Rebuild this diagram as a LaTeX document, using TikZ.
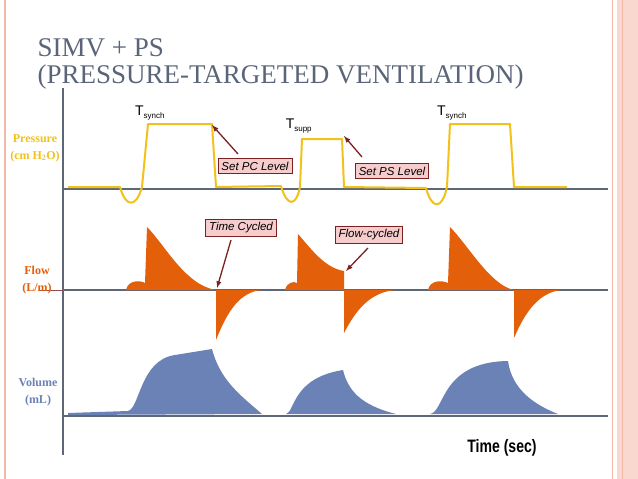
\documentclass[tikz,border=0pt]{standalone}
\usepackage{fontspec}
\setmainfont{Liberation Serif}
\newfontfamily\sansf{Liberation Sans}
\newfontfamily\narrowf{Liberation Sans}[FakeStretch=0.78]
\definecolor{axisgray}{HTML}{5E6776}
\definecolor{presscol}{HTML}{F2C21B}
\definecolor{flowcol}{HTML}{E35F0A}
\definecolor{volcol}{HTML}{6B82B6}
\definecolor{boxfill}{HTML}{F6CCCC}
\definecolor{boxline}{HTML}{7A2222}
\definecolor{titlecol}{HTML}{5B6579}
\definecolor{pinkline}{HTML}{F4B8A8}
\tikzset{
  notebox/.style={draw=boxline,fill=boxfill,line width=0.8pt,inner sep=3.5pt,font=\sansf\itshape\fontsize{11.5}{12}\selectfont},
  pointer/.style={draw=boxline,line width=1.3pt,-latex},
  sidelabel/.style={align=center,font=\bfseries\fontsize{12}{17}\selectfont}
}
\begin{document}
\begin{tikzpicture}[x=1pt,y=-1pt]
\useasboundingbox (0,0) rectangle (638,479);
\fill[white] (0,0) rectangle (638,479);
% slide border
\draw[pinkline,line width=1.5pt] (5,0) -- (5,479);
\draw[pinkline,line width=1pt] (612,0) -- (612,479);
\fill[pinkline!55] (617,0) rectangle (638,479);
\draw[pinkline,line width=1pt] (622,0) -- (622,479);
% title
\node[anchor=west,text=titlecol,font=\fontsize{27}{30}\selectfont] (title1) at (34,48) {SIMV + PS};
\node[anchor=west,text=titlecol,font=\fontsize{27}{30}\selectfont] (title2) at (34,77) {(PRESSURE-TARGETED VENTILATION)};
% axes
\draw[axisgray,line width=2.5pt] (63,88) -- (63,455);
\draw[axisgray,line width=2.5pt] (63,189) -- (608,189);
\draw[axisgray,line width=2.5pt] (63,290) -- (608,290);
\draw[axisgray,line width=2.5pt] (63,416) -- (608,416);
\draw[boxline!80,line width=1pt] (40,290) -- (63,290);
% flow
\fill[flowcol] (126,290) .. controls (128,280) and (140,280) .. (145,283) -- (147,227)
  .. controls (165,245) and (185,285) .. (216,290) -- cycle;
\fill[flowcol] (216,290) -- (216,340) .. controls (228,310) and (240,292) .. (262,290) -- cycle;
\fill[flowcol] (285,290) .. controls (287,282) and (294,281) .. (297,283) -- (298,234)
  .. controls (312,250) and (325,268) .. (344,271) -- (344,290) -- cycle;
\fill[flowcol] (344,290) -- (344,333) .. controls (356,310) and (370,292) .. (396,290) -- cycle;
\fill[flowcol] (428,290) .. controls (430,280) and (442,280) .. (448,283) -- (450,227)
  .. controls (468,245) and (490,285) .. (514,290) -- cycle;
\fill[flowcol] (514,290) -- (514,338) .. controls (526,310) and (540,292) .. (562,290) -- cycle;
% volume
\fill[volcol] (68,413) -- (128,411) .. controls (140,408) and (140,360) .. (175,355)
  -- (212,349) .. controls (220,380) and (240,395) .. (262,414) -- (68,415) -- cycle;
\fill[volcol] (286,414) .. controls (295,412) and (292,378) .. (343,370)
  .. controls (348,390) and (360,405) .. (396,414) -- cycle;
\fill[volcol] (430,414) .. controls (445,412) and (440,362) .. (508,361)
  .. controls (512,390) and (535,405) .. (558,414) -- cycle;
% pressure
\draw[presscol,line width=2pt,line join=round] (68,187) -- (120,187)
  .. controls (126,208) and (136,208) .. (142,187) -- (148,124) -- (212,124) -- (216,187)
  -- (281,186) .. controls (287,207) and (296,207) .. (300,187) -- (302,139) -- (342,139) -- (344,187)
  -- (426,188) .. controls (432,210) and (442,210) .. (447,187) -- (450,124) -- (510,124) -- (514,187) -- (567,187);
% labels
\node[font=\sansf\fontsize{14}{14}\selectfont] (ts1) at (150,113) {T\textsubscript{\fontsize{8}{8}\selectfont synch}};
\node[font=\sansf\fontsize{14}{14}\selectfont] (ts2) at (299,126) {T\textsubscript{\fontsize{8}{8}\selectfont supp}};
\node[font=\sansf\fontsize{14}{14}\selectfont] (ts3) at (452,113) {T\textsubscript{\fontsize{8}{8}\selectfont synch}};
\node[notebox] (pc) at (255,166) {Set PC Level};
\node[notebox] (ps) at (392,171) {Set PS Level};
\node[notebox] (tc) at (241,228) {Time Cycled};
\node[notebox] (fc) at (369,235) {Flow-cycled};
\coordinate (pctip) at (212,125);
\coordinate (pstip) at (344,136);
\coordinate (tctip) at (217,288);
\coordinate (fctip) at (346,271);
\draw[pointer] (238,154) -- (pctip);
\draw[pointer] (362,157) -- (pstip);
\draw[pointer] (231,240) -- (tctip);
\draw[pointer] (368,248) -- (fctip);
\node[sidelabel,text=presscol] (plab) at (35,148) {Pressure\\(cm H\textsubscript{2}O)};
\node[sidelabel,text=flowcol] (flab) at (37,280) {Flow\\(L/m)};
\node[sidelabel,text=volcol] (vlab) at (38,392) {Volume\\(mL)};
\node[font=\narrowf\bfseries\fontsize{18}{18}\selectfont] (time) at (502,448) {Time (sec)};
\end{tikzpicture}
\end{document}
